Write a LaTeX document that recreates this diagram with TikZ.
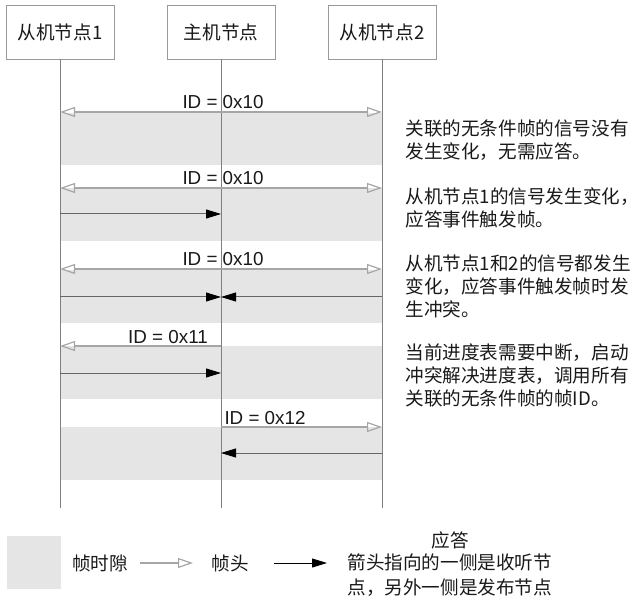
\documentclass[tikz,border=0pt]{standalone}
\usepackage{fontspec}
\setmainfont{Noto Sans CJK SC}
\newfontfamily\idfont{Liberation Sans}
\usetikzlibrary{arrows.meta}
\tikzset{hd/.tip={Triangle[open,length=7.5pt,width=5pt]},rp/.tip={Triangle[length=7.5pt,width=4.5pt,color=black]}}

\begin{document}
\begin{tikzpicture}[x=0.5pt,y=-0.5pt,every node/.style={font=\fontsize{9.3}{11.5}\selectfont,inner sep=0pt,text=black!90},host/.style={draw=black!40,minimum width=54pt,minimum height=27pt,fill=white},life/.style={draw=black!50,line width=0.5pt},slot/.style={fill=black!10},hdr/.style={draw=black!35,line width=0.6pt,-{hd}},rsp/.style={draw=black!60,line width=0.5pt,-{rp}},idlbl/.style={font=\idfont\fontsize{9.4}{11}\selectfont,anchor=base},note/.style={align=left,anchor=north west}]
\useasboundingbox (0,0) rectangle (640,603);
\node[host] (s1) at (60,32) {从机节点1};
\node[host] (m) at (221,32) {主机节点};
\node[host] (s2) at (382,32) {从机节点2};
% frame slots
\foreach \a/\b in {113/165,188/241,270/323,346/399,427/480}
  \fill[slot] (s1 |- 0,\a) rectangle (s2 |- 0,\b);
\foreach \n in {s1,m,s2}
  \draw[life] (\n.south) -- (\n |- 0,508);
% headers
\draw[hdr,{hd}-{hd}] (s1 |- 0,112) -- (s2 |- 0,112);
\node[idlbl] (id1) at (223,109) {ID = 0x10};
\draw[hdr,{hd}-{hd}] (s1 |- 0,188) -- (s2 |- 0,188);
\node[idlbl] (id2) at (223,185) {ID = 0x10};
\draw[hdr,{hd}-{hd}] (s1 |- 0,269) -- (s2 |- 0,269);
\node[idlbl] (id3) at (223,266) {ID = 0x10};
\draw[hdr] (m |- 0,346) -- (s1 |- 0,346);
\node[idlbl] (id4) at (168,343) {ID = 0x11};
\draw[hdr] (m |- 0,427) -- (s2 |- 0,427);
\node[idlbl] (id5) at (265,424) {ID = 0x12};
% responses
\draw[rsp] (s1 |- 0,214) -- (m |- 0,214);
\draw[rsp] (s1 |- 0,297) -- (m |- 0,297);
\draw[rsp] (s2 |- 0,297) -- (m |- 0,297);
\draw[rsp] (s1 |- 0,373) -- (m |- 0,373);
\draw[rsp] (s2 |- 0,453) -- (m |- 0,453);
% notes
\node[note] (n1) at (405,119.5) {关联的无条件帧的信号没有\\发生变化，无需应答。};
\node[note] (n2) at (405,187.5) {从机节点1的信号发生变化，\\应答事件触发帧。};
\node[note] (n3) at (405,254.5) {从机节点1和2的信号都发生\\变化，应答事件触发帧时发\\生冲突。};
\node[note] (n4) at (405,343.5) {当前进度表需要中断，启动\\冲突解决进度表，调用所有\\关联的无条件帧的帧ID。};
% legend
\fill[slot] (7,536) rectangle (61,589);
\node (lg1) at (100,563) {帧时隙};
\node (lg2) at (230,563) {帧头};
\coordinate (a1) at (140,563);
\coordinate (a2) at (193,563);
\coordinate (a3) at (274,563);
\coordinate (a4) at (327,563);
\draw[hdr] (a1) -- (a2);
\draw[rsp,draw=black] (a3) -- (a4);
\node (lg3) at (450,540) {应答};
\node[note,font=\fontsize{9.3}{12.5}\selectfont] (lg4) at (347,553.5) {箭头指向的一侧是收听节\\点，另外一侧是发布节点};
\end{tikzpicture}
\end{document}
